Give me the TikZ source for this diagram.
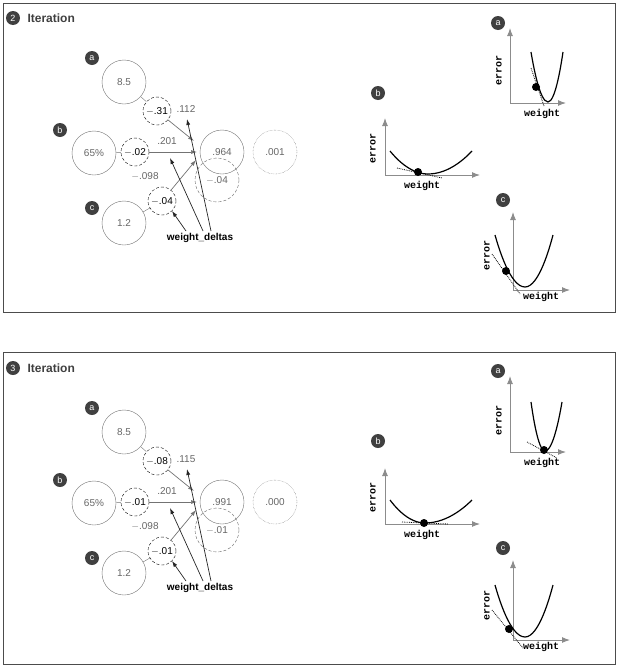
\documentclass[tikz,border=0pt]{standalone}
\usepackage{fontspec}
\setmainfont{Liberation Sans}
\newfontfamily\monof{Liberation Mono}
\usetikzlibrary{arrows.meta}
\tikzset{
 frame/.style={draw=black!70,line width=0.8pt},
 badge/.style={circle,fill=black!75,text=white,inner sep=0pt,minimum size=14pt,font=\small},
 neuron/.style={circle,draw=black!55,minimum size=44pt,inner sep=0pt,text=black!60,font=\normalsize},
 wcirc/.style={circle,draw=black,densely dashed,minimum size=28pt,inner sep=0pt,font=\normalsize},
 errc/.style={circle,draw=black!60,densely dashed,minimum size=44pt,inner sep=0pt,text=black!60,font=\normalsize},
 dotc/.style={circle,draw=black!60,densely dotted,minimum size=44pt,inner sep=0pt,text=black!60,font=\normalsize},
 wlab/.style={text=black!60,font=\normalsize,inner sep=1pt},
 garrow/.style={draw=black!55,line width=0.7pt,-{Latex[length=6pt,width=4pt]}},
 barrow/.style={draw=black!85,line width=0.7pt,-{Latex[length=6pt,width=4pt]}},
 axis/.style={draw=black!45,line width=1pt,-{Latex[length=8pt,width=6pt]}},
 curve/.style={draw=black,line width=1.2pt},
 tang/.style={draw=black,densely dotted,line width=0.8pt},
 ball/.style={circle,fill=black,inner sep=0pt,minimum size=8pt},
 axlab/.style={font=\monof\bfseries\normalsize,inner sep=1pt},
}
\newcommand\netpanel[9]{%
 \node[badge] (ta#1) at (13,18) {#2};
 \node[anchor=west,font=\bfseries\large,text=black!75] (tt#1) at (24,18) {Iteration};
 \node[badge] (ba#1) at (92,58) {a};
 \node[neuron] (in1#1) at (124,82) {8.5};
 \node[badge] (bb#1) at (60,130) {b};
 \node[neuron] (in2#1) at (94,153) {65\%};
 \node[badge] (bc#1) at (92,208) {c};
 \node[neuron] (in3#1) at (124,223) {1.2};
 \node[wcirc] (w1#1) at (157,111) {#3};
 \node[wcirc] (w2#1) at (135,152) {#4};
 \node[wcirc] (w3#1) at (162,201) {#5};
 \node[neuron] (out#1) at (222,152) {#6};
 \node[errc] (er#1) at (217,180) {#7};
 \node[dotc] (d#1) at (275,152) {#8};
 \node[wlab] (l1#1) at (186,109) {#9};
 \node[wlab] (l2#1) at (167,141) {.201};
 \node[wlab] (l3#1) at (145,176) {$-$.098};
 \node[font=\bfseries\normalsize] (wd#1) at (200,238) {weight\_deltas};
 \draw[black!55] (in1#1) -- (w1#1);
 \draw[black!55] (in2#1) -- (w2#1);
 \draw[black!55] (in3#1) -- (w3#1);
 \coordinate (p1#1) at (194,141);
 \coordinate (p2#1) at (197,152);
 \coordinate (p3#1) at (196,160);
 \draw[garrow] (w1#1) -- (p1#1);
 \draw[garrow] (w2#1) -- (p2#1);
 \draw[garrow] (w3#1) -- (p3#1);
 \coordinate (q1#1) at (187,119);
 \coordinate (q2#1) at (170,158);
 \coordinate (q3#1) at (172,211);
 \coordinate (s1#1) at (211,231);
 \coordinate (s2#1) at (203,231);
 \coordinate (s3#1) at (186,231);
 \draw[barrow] (s1#1) -- (q1#1);
 \draw[barrow] (s2#1) -- (q2#1);
 \draw[barrow] (s3#1) -- (q3#1);
}
\begin{document}
\begin{tikzpicture}[x=1pt,y=-1pt]
\useasboundingbox (0,0) rectangle (618,667);
\draw[frame] (3,3) rectangle (615,312);
\draw[frame] (3,352) rectangle (615,664);
\begin{scope}
\netpanel{A}{2}{$-$.31}{$-$.02}{$-$.04}{.964}{$-$.04}{.001}{.112}
\end{scope}
\begin{scope}[yshift=-350pt]
\netpanel{B}{3}{$-$.08}{$-$.01}{$-$.01}{.991}{$-$.01}{.000}{.115}
\end{scope}
% ---------- charts panel 2
\begin{scope}
 \node[badge] (ca) at (498,23) {a};
 \coordinate (oa) at (510,103);
 \coordinate (ya) at (510,28); \coordinate (xa) at (566,103);
 \draw[axis] (oa) -- (ya); \draw[axis] (oa) -- (xa);
 \node[axlab,rotate=90] (ea) at (499,70) {error};
 \node[axlab] (wa) at (542,114) {weight};
 \draw[curve] (531,52) parabola bend (548,102) (563,52);
 \draw[tang] (531,68) -- (544,106);
 \node[ball] (ka) at (536,87) {};
 \node[badge] (cb) at (378,93) {b};
 \coordinate (ob) at (385,175);
 \coordinate (yb) at (385,118); \coordinate (xb) at (480,175);
 \draw[axis] (ob) -- (yb); \draw[axis] (ob) -- (xb);
 \node[axlab,rotate=90] (eb) at (373,148) {error};
 \node[axlab] (wb) at (422,186) {weight};
 \draw[curve] (390,151) parabola bend (428,174) (472,151);
 \draw[tang] (397,168) -- (442,178);
 \node[ball] (kb) at (418,172) {};
 \node[badge] (cc) at (503,200) {c};
 \coordinate (oc) at (513,290);
 \coordinate (yc) at (513,212); \coordinate (xc) at (570,290);
 \draw[axis] (oc) -- (yc); \draw[axis] (oc) -- (xc);
 \node[axlab,rotate=90] (ec) at (487,255) {error};
 \node[axlab] (wc) at (541,297) {weight};
 \draw[curve] (495,235) parabola bend (525,287) (553,235);
 \draw[tang] (492,254) -- (520,294);
 \node[ball] (kc) at (506,271) {};
\end{scope}
% ---------- charts panel 3
\begin{scope}[yshift=-350pt]
 \node[badge] (ca3) at (498,21) {a};
 \coordinate (oa3) at (510,102);
 \coordinate (ya3) at (510,26); \coordinate (xa3) at (566,102);
 \draw[axis] (oa3) -- (ya3); \draw[axis] (oa3) -- (xa3);
 \node[axlab,rotate=90] (ea3) at (499,70) {error};
 \node[axlab] (wa3) at (542,113) {weight};
 \draw[curve] (531,52) parabola bend (545,101) (562,52);
 \draw[tang] (527,92) -- (557,108);
 \node[ball] (ka3) at (544,100) {};
 \node[badge] (cb3) at (378,91) {b};
 \coordinate (ob3) at (385,174);
 \coordinate (yb3) at (385,118); \coordinate (xb3) at (480,174);
 \draw[axis] (ob3) -- (yb3); \draw[axis] (ob3) -- (xb3);
 \node[axlab,rotate=90] (eb3) at (373,147) {error};
 \node[axlab] (wb3) at (422,185) {weight};
 \draw[curve] (390,150) parabola bend (425,173) (472,150);
 \draw[tang] (402,172) -- (448,174);
 \node[ball] (kb3) at (424,173) {};
 \node[badge] (cc3) at (503,198) {c};
 \coordinate (oc3) at (513,290);
 \coordinate (yc3) at (513,210); \coordinate (xc3) at (570,290);
 \draw[axis] (oc3) -- (yc3); \draw[axis] (oc3) -- (xc3);
 \node[axlab,rotate=90] (ec3) at (487,255) {error};
 \node[axlab] (wc3) at (541,297) {weight};
 \draw[curve] (495,235) parabola bend (525,287) (553,235);
 \draw[tang] (492,260) -- (523,298);
 \node[ball] (kc3) at (509,279) {};
\end{scope}
\end{tikzpicture}
\end{document}
